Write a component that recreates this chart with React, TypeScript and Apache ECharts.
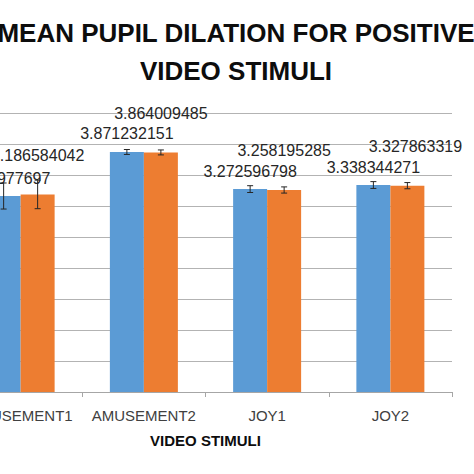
import React, { useEffect, useRef } from "react";
import * as echarts from "echarts";

const categories = ["AMUSEMENT1", "AMUSEMENT2", "JOY1", "JOY2"];
const blueValues = [3.160977697, 3.871232151, 3.272596798, 3.338344271];
const orangeValues = [3.186584042, 3.864009485, 3.258195285, 3.327863319];
const blueErrors = [0.21, 0.04, 0.055, 0.055];
const orangeErrors = [0.23, 0.04, 0.05, 0.05];
const yTicks = { min: 0, max: 4.5, interval: 0.5 };
const titleLines = ["MEAN PUPIL DILATION FOR POSITIVE", "VIDEO STIMULI"];

const BLUE = "#5b9bd5";
const ORANGE = "#ed7d31";
const BAR_W = 34;
const SHIFT = 41; // chart is wider than the view and shifted left (the reference is a crop)
const FONT = "'Liberation Sans', Arial, sans-serif";

function errorSeries(values: number[], errors: number[], offset: number) {
  return {
    type: "custom",
    z: 5,
    silent: true,
    data: values.map((v, i) => [i, v, errors[i]]),
    renderItem: (_params: any, api: any) => {
      const i = api.value(0);
      const v = api.value(1);
      const e = api.value(2);
      const top = api.coord([i, v + e]);
      const bot = api.coord([i, v - e]);
      const x = top[0] + offset;
      const cap = 3;
      const style = { stroke: "#262626", lineWidth: 1 };
      return {
        type: "group",
        children: [
          { type: "line", shape: { x1: x, y1: top[1], x2: x, y2: bot[1] }, style },
          { type: "line", shape: { x1: x - cap, y1: top[1], x2: x + cap, y2: top[1] }, style },
          { type: "line", shape: { x1: x - cap, y1: bot[1], x2: x + cap, y2: bot[1] }, style },
        ],
      };
    },
  };
}

export default function App() {
  const ref = useRef<HTMLDivElement>(null);
  useEffect(() => {
    if (!ref.current) return;
    const chart = echarts.init(ref.current, undefined, { renderer: "svg" });
    chart.setOption({
      animation: false,
      backgroundColor: "#ffffff",
      graphic: titleLines.map((t, k) => ({
        type: "text",
        x: 236 + SHIFT,
        y: 33 + k * 38,
        style: {
          text: t,
          align: "center",
          verticalAlign: "middle",
          fontFamily: FONT,
          fontWeight: "bold",
          fontSize: 26,
          fill: "#0d0d0d",
        },
      })),
      grid: { left: 0, right: 22, top: 113, bottom: 82 },
      xAxis: {
        type: "category",
        data: categories,
        name: "VIDEO STIMULI",
        nameLocation: "middle",
        nameGap: 41,
        nameTextStyle: { fontFamily: FONT, fontWeight: "bold", fontSize: 15, color: "#0d0d0d" },
        axisLine: { lineStyle: { color: "#a6a6a6", width: 1 } },
        axisTick: { show: true, length: 5, lineStyle: { color: "#a6a6a6" } },
        axisLabel: { interval: 0, fontFamily: FONT, fontSize: 15, color: "#404040", margin: 16 },
      },
      yAxis: {
        type: "value",
        min: yTicks.min,
        max: yTicks.max,
        interval: yTicks.interval,
        axisLabel: { show: false },
        axisLine: { show: false },
        axisTick: { show: false },
        splitLine: { lineStyle: { color: "#b3b3b3", width: 1 } },
      },
      series: [
        {
          type: "bar",
          data: blueValues,
          barWidth: BAR_W,
          barGap: "0%",
          itemStyle: { color: BLUE },
          label: {
            show: true,
            position: "top",
            distance: 10,
            fontFamily: FONT,
            fontSize: 16,
            color: "#262626",
            formatter: (p: any) => String(p.value),
          },
        },
        {
          type: "bar",
          data: orangeValues.map((v, i) =>
            i === 3 ? { value: v, label: { offset: [8, 0] } } : v
          ),
          barWidth: BAR_W,
          barGap: "0%",
          itemStyle: { color: ORANGE },
          label: {
            show: true,
            position: "top",
            distance: 31,
            fontFamily: FONT,
            fontSize: 16,
            color: "#262626",
            formatter: (p: any) => String(p.value),
          },
        },
        errorSeries(blueValues, blueErrors, -BAR_W / 2),
        errorSeries(orangeValues, orangeErrors, BAR_W / 2),
      ],
    });
    return () => chart.dispose();
  }, []);
  return (
    <div
      style={{
        position: "fixed",
        left: 0,
        top: 0,
        width: 474,
        height: 474,
        overflow: "hidden",
        background: "#fff",
      }}
    >
      <div
        ref={ref}
        style={{ position: "absolute", left: -SHIFT, top: 0, width: 474 + SHIFT, height: 474 }}
      />
    </div>
  );
}
